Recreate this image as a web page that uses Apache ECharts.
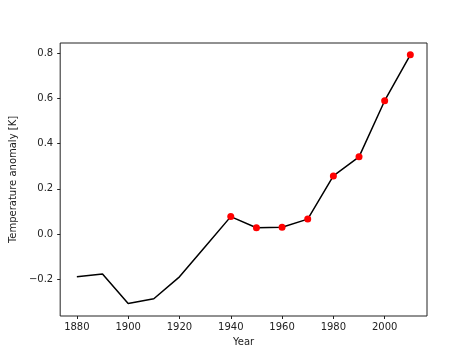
<!DOCTYPE html>
<html>
<head>
<meta charset="utf-8">
<script src="https://cdn.jsdelivr.net/npm/echarts@6/dist/echarts.min.js"></script>
<style>
  html, body { margin: 0; padding: 0; background: #fff; }
  #chart { width: 474px; height: 355px; }
</style>
</head>
<body>
<div id="chart"></div>
<script>
const years = [1880, 1890, 1900, 1910, 1920, 1930, 1940, 1950, 1960, 1970, 1980, 1990, 2000, 2010]
const anomaly = [-0.189, -0.176, -0.307, -0.286, -0.189, -0.056, 0.077, 0.028, 0.030, 0.066, 0.257, 0.341, 0.589, 0.792]
const firstMarkedYear = 1940
const xTicks = [1880, 1900, 1920, 1940, 1960, 1980, 2000]
const yTicks = [-0.2, 0.0, 0.2, 0.4, 0.6, 0.8]

const linePoints = years.map((y, i) => [y, anomaly[i]])
const markedPoints = linePoints.filter(p => p[0] >= firstMarkedYear)

const font = 'DejaVu Sans'
const fmtY = v => v.toFixed(1).replace('-', '\u2212')

const chart = echarts.init(document.getElementById('chart'))
const option = {
  animation: false,
  textStyle: { fontFamily: font },
  grid: {
    left: 59, right: 47, top: 43, bottom: 39,
    show: true, borderColor: '#222', borderWidth: 1, backgroundColor: 'transparent'
  },
  xAxis: {
    type: 'value',
    min: 1873.5,
    max: 2016.5,
    name: 'Year',
    nameLocation: 'middle',
    nameGap: 21,
    nameTextStyle: { fontFamily: font, fontSize: 10, color: '#222' },
    axisLine: { show: false, onZero: false },
    splitLine: { show: false },
    axisTick: { show: true, length: 3, lineStyle: { color: '#222' }, customValues: xTicks },
    axisLabel: { fontFamily: font, fontSize: 10, color: '#222', margin: 6, customValues: xTicks, formatter: v => String(v) }
  },
  yAxis: {
    type: 'value',
    min: -0.362,
    max: 0.844,
    name: 'Temperature anomaly [K]',
    nameLocation: 'middle',
    nameGap: 35,
    nameRotate: 90,
    nameTextStyle: { fontFamily: font, fontSize: 10, color: '#222' },
    axisLine: { show: false, onZero: false },
    splitLine: { show: false },
    axisTick: { show: true, length: 3, lineStyle: { color: '#222' }, customValues: yTicks },
    axisLabel: { fontFamily: font, fontSize: 10, color: '#222', margin: 7, customValues: yTicks, formatter: fmtY }
  },
  series: [
    {
      type: 'line',
      data: linePoints,
      showSymbol: false,
      symbol: 'none',
      lineStyle: { color: '#000', width: 1.5 },
      z: 2
    },
    {
      type: 'scatter',
      data: markedPoints,
      symbol: 'circle',
      symbolSize: 7,
      itemStyle: { color: '#ff0000', opacity: 1 },
      z: 3
    }
  ]
}
chart.setOption(option)
</script>
</body>
</html>
